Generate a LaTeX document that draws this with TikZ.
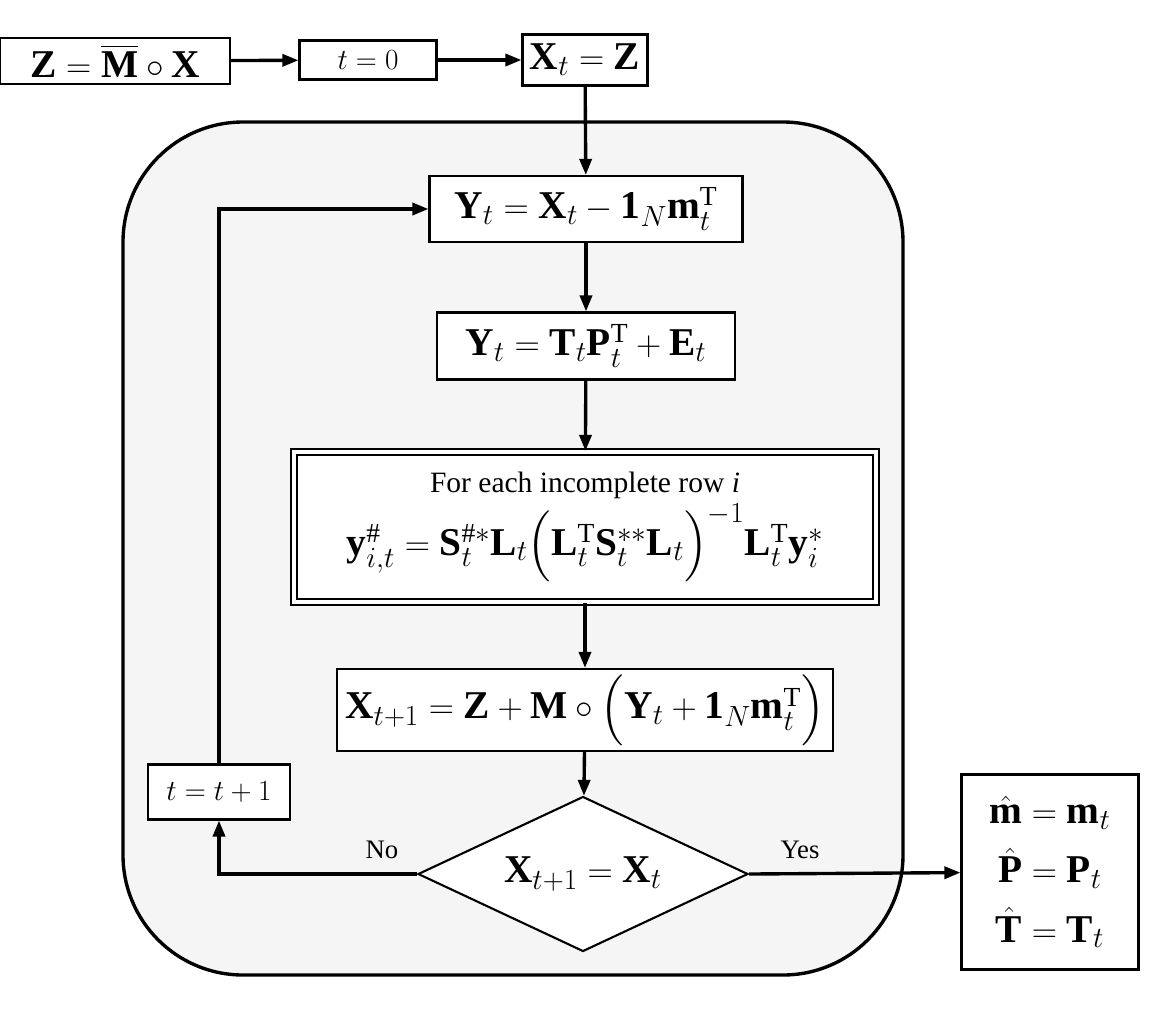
\documentclass[tikz,border=0pt]{standalone}
\usepackage{amsmath}
\usepackage{amssymb}
\usepackage{fontspec}
\setmainfont{Liberation Serif}
\usepackage{tikz}
\usetikzlibrary{arrows.meta, shapes.geometric, positioning}
\tikzstyle{stepbox}=[draw, line width=1.5pt, fill=white, inner sep=4pt, font=\fontsize{28}{32}\selectfont]
\tikzstyle{smallbox}=[draw, line width=1.5pt, fill=white, font=\fontsize{21}{25}\selectfont]
\tikzstyle{flow}=[line width=2.4pt, -{Triangle[length=4mm, width=3mm]}]
\tikzstyle{lbl}=[font=\fontsize{19}{23}\selectfont]
\begin{document}
\begin{tikzpicture}[x=0.025cm, y=-0.025cm]
        \useasboundingbox (0,0) rectangle (1159,1028);
        \draw[line width=2.4pt, fill=gray!8, rounded corners=3cm] (123,122) rectangle (903,975);
        \node[stepbox, minimum width=230*0.025cm, minimum height=46*0.025cm, inner sep=0pt] (z) at (115,61) {$\mathbf{Z}=\overline{\mathbf{M}}\circ\mathbf{X}$};
        \node[smallbox, minimum width=137*0.025cm, minimum height=39*0.025cm] (t0) at (368,60) {$t=0$};
        \node[stepbox, minimum width=125*0.025cm, minimum height=51*0.025cm, inner sep=0pt] (xz) at (585,60) {$\mathbf{X}_t=\mathbf{Z}$};
        \node[stepbox, minimum width=313*0.025cm, minimum height=66*0.025cm] (yc) at (586,209) {$\mathbf{Y}_t=\mathbf{X}_t-\mathbf{1}_N\mathbf{m}_t^{\mathrm{T}}$};
        \node[stepbox, minimum width=298*0.025cm, minimum height=67*0.025cm] (yd) at (586,346) {$\mathbf{Y}_t=\mathbf{T}_t\mathbf{P}_t^{\mathrm{T}}+\mathbf{E}_t$};
        \node[stepbox, double, double distance=3pt, minimum width=582*0.025cm, minimum height=150*0.025cm, align=center] (yi) at (585,527)
            {{\fontsize{21}{25}\selectfont For each incomplete row \textit{i}}\\[2pt]
             $\mathbf{y}_{i,t}^{\#}=\mathbf{S}_t^{\#*}\mathbf{L}_t\Big(\mathbf{L}_t^{\mathrm{T}}\mathbf{S}_t^{**}\mathbf{L}_t\Big)^{-1}\mathbf{L}_t^{\mathrm{T}}\mathbf{y}_i^{*}$};
        \node[stepbox, minimum width=496*0.025cm, minimum height=71*0.025cm] (xn) at (585,710) {$\mathbf{X}_{t+1}=\mathbf{Z}+\mathbf{M}\circ\Big(\mathbf{Y}_t+\mathbf{1}_N\mathbf{m}_t^{\mathrm{T}}\Big)$};
        \node[stepbox, diamond, aspect=2.13, minimum width=330*0.025cm, minimum height=155*0.025cm, inner sep=0pt] (dec) at (583,874) {$\mathbf{X}_{t+1}=\mathbf{X}_t$};
        \node[smallbox, minimum width=142*0.025cm, minimum height=55*0.025cm] (inc) at (219,792) {$t=t+1$};
        \node[stepbox, minimum width=177*0.025cm, minimum height=195*0.025cm, align=center] (out) at (1050,872)
            {$\hat{\mathbf{m}}=\mathbf{m}_t$\\[10pt] $\hat{\mathbf{P}}=\mathbf{P}_t$\\[10pt] $\hat{\mathbf{T}}=\mathbf{T}_t$};
        \coordinate (cn) at (219,874); \coordinate (cu) at (219,209);
        \draw[flow] (z) -- (t0); \draw[flow] (t0) -- (xz);
        \draw[flow] (xz) -- (yc); \draw[flow] (yc) -- (yd);
        \draw[flow] (yd) -- (yi); \draw[flow] (yi) -- (xn);
        \draw[flow] (xn) -- (dec);
        \draw[flow] (dec.west) -- (cn) -- (inc);
        \draw[flow] (inc) -- (cu) -- (yc);
        \draw[flow] (dec.east) -- (out);
        \node[lbl] (no) at (382,850) {No};
        \node[lbl] (yes) at (800,850) {Yes};
    \end{tikzpicture}
\end{document}
